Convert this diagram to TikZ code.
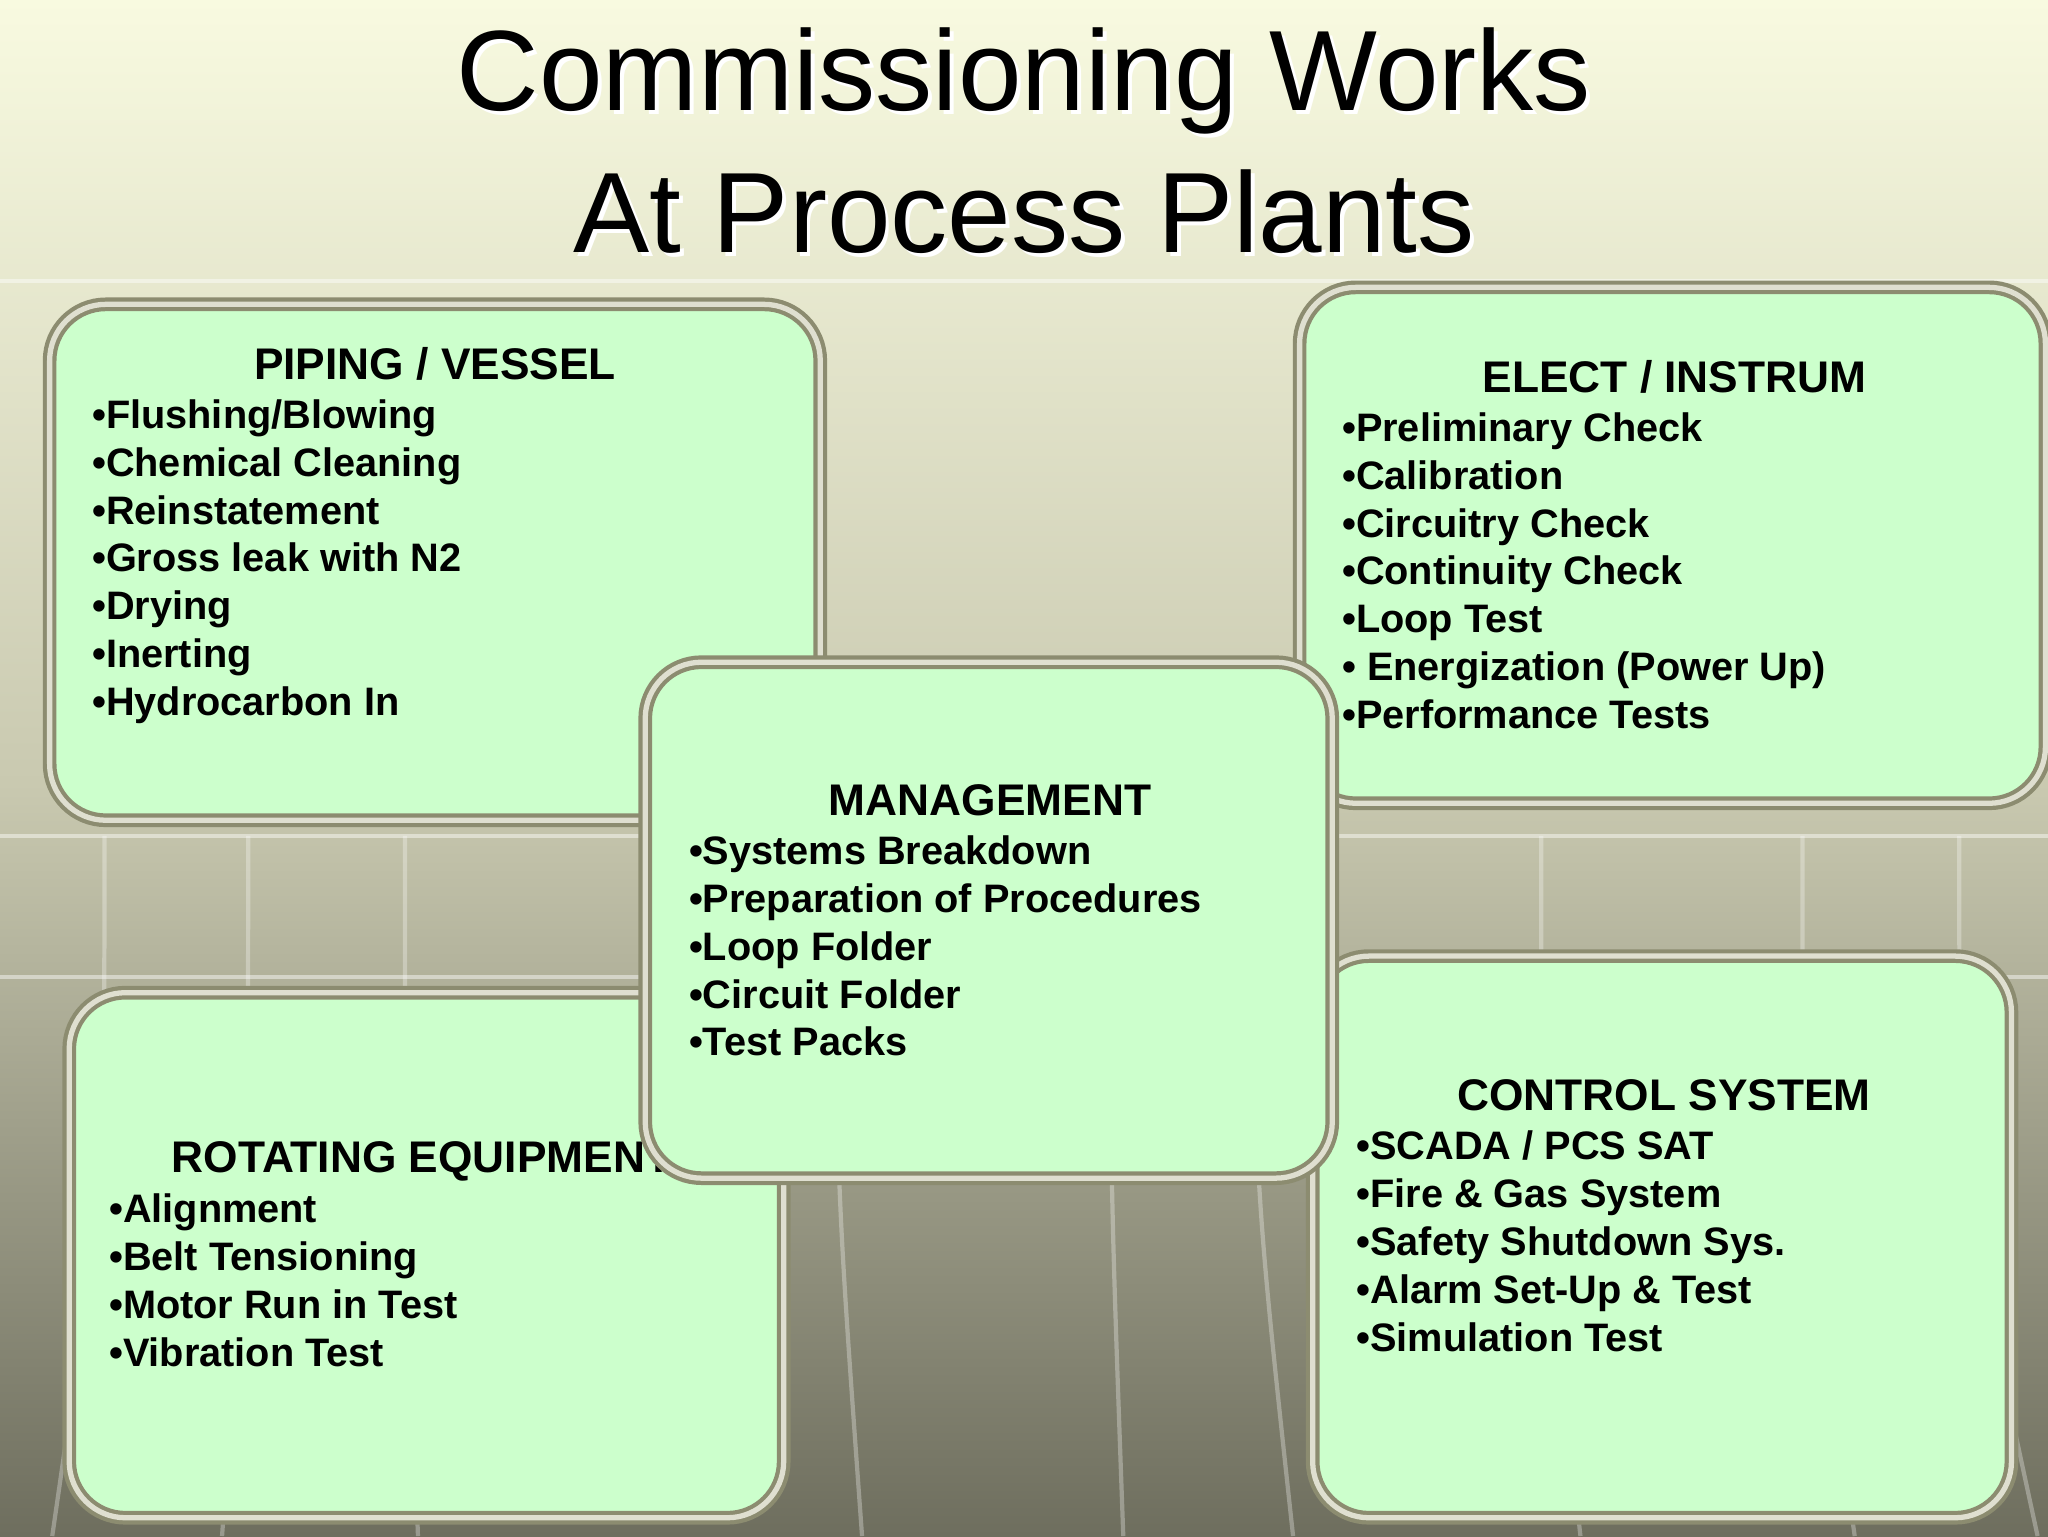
\documentclass[tikz,border=0pt]{standalone}
\usepackage{fontspec}
\setmainfont{Liberation Sans}
\definecolor{bgtop}{HTML}{F8FAE0}
\definecolor{bgmid}{HTML}{C9C9B0}
\definecolor{bgbot}{HTML}{6E6E5E}
\definecolor{edge}{HTML}{8C8C70}
\begin{document}
\begin{tikzpicture}[x=0.1306mm,y=-0.1306mm,
  card/.style={draw=edge,double=bgmid!60!white,double distance=1.5pt,line width=1.2pt,fill=green!20,rounded corners=16pt},
  item/.style={anchor=west,font=\fontsize{11.3pt}{13pt}\selectfont\bfseries,inner sep=0pt,text height=8pt,text depth=2pt},
  head/.style={font=\fontsize{12.6pt}{14pt}\selectfont\bfseries,inner sep=0pt,text height=9pt,text depth=2pt},
  grid/.style={white,opacity=0.45,line width=1.2pt}]
\useasboundingbox (0,0) rectangle (1568,1176);
\shade[top color=bgtop,bottom color=bgmid] (0,0) rectangle (1568,600);
\shade[top color=bgmid,bottom color=bgbot] (0,600) rectangle (1568,1176);
\foreach \yy in {215,640,748} \draw[grid] (0,\yy) -- (1568,\yy);
\foreach \xa/\xb in {80/40,190/170,310/320,640/660,850/860,960/990,1180/1210,1380/1420,1500/1560}
  \draw[grid,opacity=0.3] (\xa,640) .. controls (\xa,900) .. (\xb,1176);
% title
\foreach \dx/\dy/\c in {3/3/white,0/0/black}{
 \node[text=\c,font=\fontsize{32.5pt}{40pt}\selectfont] (t\c1) at (784+\dx,62+\dy) {Commissioning Works};
 \node[text=\c,font=\fontsize{32.5pt}{40pt}\selectfont] (t\c2) at (784+\dx,162+\dy) {At Process Plants};}
% piping
\draw[card] (38,233) rectangle (628,628);
\node[head] (ph) at (333,281) {PIPING / VESSEL};
\foreach \t [count=\i from 0] in {Flushing/Blowing,Chemical Cleaning,Reinstatement,Gross leak with N2,Drying,Inerting,Hydrocarbon In}
  \node[item] (p\i) at (70,320+36.6*\i) {•\t};
% elect
\draw[card] (995,220) rectangle (1566,615);
\node[head] (eh) at (1282,291) {ELECT / INSTRUM};
\foreach \t [count=\i from 0] in {Preliminary Check,Calibration,Circuitry Check,Continuity Check,Loop Test,{ Energization (Power Up)},Performance Tests}
  \node[item] (e\i) at (1027,330+36.6*\i) {•\t};
% rotating
\draw[card] (53,760) rectangle (600,1162);
\node[head,anchor=west] (rh) at (131,888) {ROTATING EQUIPMENT};
\foreach \t [count=\i from 0] in {Alignment,Belt Tensioning,Motor Run in Test,Vibration Test}
  \node[item] (r\i) at (83,928+36.6*\i) {•\t};
% control
\draw[card] (1005,732) rectangle (1540,1162);
\node[head] (ch) at (1274,841) {CONTROL SYSTEM};
\foreach \t [count=\i from 0] in {SCADA / PCS SAT,Fire \& Gas System,Safety Shutdown Sys.,Alarm Set-Up \& Test,Simulation Test}
  \node[item] (c\i) at (1038,880+36.6*\i) {•\t};
% management
\draw[card] (494,507) rectangle (1020,902);
\node[head] (mh) at (758,615) {MANAGEMENT};
\foreach \t [count=\i from 0] in {Systems Breakdown,Preparation of Procedures,Loop Folder,Circuit Folder,Test Packs}
  \node[item] (m\i) at (527,654+36.6*\i) {•\t};
\end{tikzpicture}
\end{document}
